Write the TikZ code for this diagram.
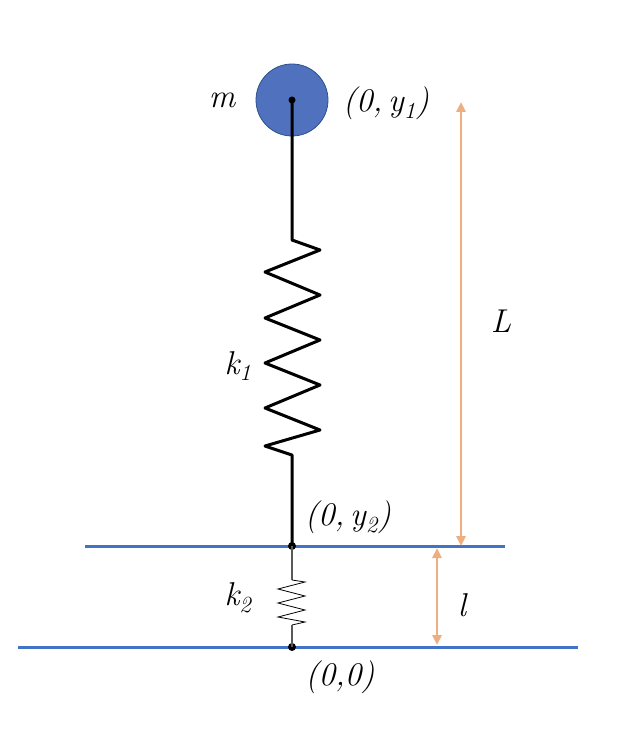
\documentclass[tikz,border=0pt]{standalone}
\usepackage{fontspec}
\usepackage{xcolor}
\usetikzlibrary{arrows.meta}
\definecolor{bl}{HTML}{4472C4}
\definecolor{blfill}{HTML}{4F71BE}
\definecolor{org}{HTML}{EDAF7F}
\begin{document}
\begin{tikzpicture}[x=1pt,y=-1pt,
  lab/.style={font=\fontsize{33}{38}\selectfont\itshape,inner sep=0pt},
  floor/.style={bl,line width=3pt},
  dim/.style={org,line width=2.6pt,{Triangle[length=10pt,width=9pt]}-{Triangle[length=10pt,width=9pt]}},
  dot/.style={circle,fill=black,inner sep=0pt,minimum size=8pt}]
\useasboundingbox (0,0) rectangle (628,730);
\coordinate (fl1) at (85,546); \coordinate (fr1) at (505,546);
\coordinate (fl0) at (18,647); \coordinate (fr0) at (578,647);
\draw[floor] (fl1) -- (fr1);
\draw[floor] (fl0) -- (fr0);
\node[circle,fill=blfill,draw=bl!70!black,line width=0.8pt,minimum size=72pt,inner sep=0pt] (m) at (292,100) {};
\node[dot,minimum size=7pt] (p1) at (292,100) {};
\node[dot] (p2) at (292,546) {};
\node[dot] (p0) at (292,647) {};
\draw[line width=3pt,line join=round] (p1.center) -- (292,240) -- (320,250) -- (265,272) -- (320,295) -- (265,318) -- (320,340) -- (265,363) -- (320,385) -- (265,408) -- (320,430) -- (265,446) -- (292,455) -- (p2.center);
\draw[gray!70!black,line width=1.3pt] (p2.center) -- (292,580);
\draw[black,line width=0.8pt] (292,580) -- (305,582) -- (278,589) -- (305,596) -- (278,603) -- (305,610) -- (278,617) -- (305,622) -- (292,625);
\draw[gray!70!black,line width=1.3pt] (292,625) -- (p0.center);
\coordinate (La) at (461,102); \coordinate (Lb) at (461,546);
\draw[dim] (La) -- (Lb);
\coordinate (la) at (437,548); \coordinate (lb) at (437,645);
\draw[dim] (la) -- (lb);
\node[lab] (tm) at (222,100) {m};
\node[lab] (ty1) at (386,103) {(0,\,y\textsubscript{1})};
\node[lab] (tk1) at (238,366) {k\textsubscript{1}};
\node[lab] (ty2) at (348,517) {(0,\,y\textsubscript{2})};
\node[lab] (tk2) at (238,598) {k\textsubscript{2}};
\node[lab] (t00) at (340,677) {(0,0)};
\node[lab] (tL) at (501,321) {L};
\node[lab] (tl) at (462,605) {l};
\end{tikzpicture}
\end{document}
